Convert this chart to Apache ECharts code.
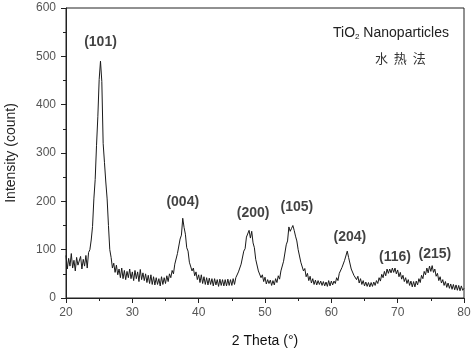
<!DOCTYPE html>
<html>
<head>
<meta charset="utf-8">
<script src="https://cdn.jsdelivr.net/npm/echarts@6/dist/echarts.min.js"></script>
<style>html,body{margin:0;padding:0;background:#fff}#c{width:474px;height:353px}</style>
</head>
<body>
<div id="c"></div>
<script>
// Scan grid (2θ, degrees)
const thetaStart = 20;
const thetaStep = 0.2;
// Intensity (count), one value per 0.2°
const intensity = [
  88, 60, 82, 66, 92, 62, 78, 56, 84, 68,
  64, 86, 60, 80, 66, 88, 62, 94, 100, 120,
  148, 205, 245, 315, 375, 452, 490, 448, 320, 280,
  240, 205, 150, 100, 84, 62, 72, 53, 68, 48,
  60, 42, 62, 40, 57, 38, 55, 42, 60, 40,
  54, 36, 57, 40, 54, 34, 59, 38, 52, 36,
  50, 32, 47, 30, 48, 28, 44, 27, 42, 28,
  40, 25, 44, 28, 42, 30, 46, 34, 50, 42,
  57, 50, 70, 70, 92, 94, 122, 130, 165, 146,
  132, 104, 97, 74, 74, 56, 62, 46, 54, 38,
  48, 32, 48, 30, 44, 28, 42, 27, 41, 28,
  40, 25, 40, 27, 38, 24, 39, 26, 38, 25,
  38, 25, 39, 26, 38, 26, 40, 28, 42, 38,
  54, 51, 70, 73, 97, 102, 126, 126, 140, 124,
  138, 114, 104, 80, 76, 56, 59, 42, 48, 34,
  43, 29, 38, 30, 37, 26, 36, 27, 40, 32,
  46, 39, 56, 53, 76, 80, 110, 118, 147, 138,
  144, 150, 140, 128, 118, 100, 96, 74, 74, 56,
  61, 44, 51, 36, 45, 31, 40, 28, 37, 27,
  36, 28, 35, 26, 34, 25, 33, 24, 36, 25,
  35, 27, 35, 30, 42, 36, 51, 48, 63, 60,
  78, 78, 97, 84, 80, 60, 62, 47, 51, 38,
  45, 31, 40, 28, 36, 25, 33, 24, 32, 23,
  32, 24, 33, 26, 36, 30, 42, 35, 49, 42,
  55, 46, 60, 51, 60, 52, 62, 53, 62, 50,
  58, 44, 53, 39, 47, 34, 42, 30, 38, 26,
  35, 23, 34, 23, 35, 27, 40, 32, 47, 40,
  55, 48, 62, 52, 66, 55, 67, 53, 60, 45,
  51, 36, 44, 31, 38, 26, 34, 22, 31, 20,
  29, 18, 28, 17, 27, 16, 26, 15, 25, 16,
  20
];
// Peak annotations (Miller indices) placed in data coordinates
const peakNames = ['(101)', '(004)', '(200)', '(105)', '(204)', '(116)', '(215)'];
const peakLabelTheta = [25.2, 37.6, 48.2, 54.8, 62.8, 69.6, 75.6];
const peakLabelCount = [530, 198, 175, 188, 126, 84, 90];

const xTicks = [20, 30, 40, 50, 60, 70, 80];
const yTicks = [0, 100, 200, 300, 400, 500, 600];

const lineData = intensity.map((v, i) => [+(thetaStart + i * thetaStep).toFixed(2), v]);
const labelData = peakNames.map((n, i) => ({ name: n, value: [peakLabelTheta[i], peakLabelCount[i]] }));

const chart = echarts.init(document.getElementById('c'), null, { renderer: 'canvas' });
chart.setOption({
  animation: false,
  backgroundColor: '#fff',
  grid: { left: 66, right: 10, top: 8, bottom: 55, show: true, borderColor: '#222', borderWidth: 1,
          containLabel: false, outerBoundsMode: 'none' },
  xAxis: {
    type: 'value', min: xTicks[0], max: xTicks[xTicks.length - 1], interval: 10,
    name: '2 Theta (°)', nameLocation: 'middle', nameGap: 36,
    nameTextStyle: { fontFamily: 'Arial, Liberation Sans', fontSize: 14, color: '#111' },
    axisLine: { lineStyle: { color: '#222', width: 1 } },
    axisTick: { inside: false, length: 5, lineStyle: { color: '#222' } },
    minorTick: { show: true, splitNumber: 2, length: 3, lineStyle: { color: '#222' } },
    axisLabel: { fontFamily: 'Arial, Liberation Sans', fontSize: 12, color: '#555', margin: 9 },
    splitLine: { show: false }
  },
  yAxis: {
    type: 'value', min: yTicks[0], max: yTicks[yTicks.length - 1], interval: 100,
    name: 'Intensity (count)', nameLocation: 'middle', nameGap: 48,
    nameTextStyle: { fontFamily: 'Arial, Liberation Sans', fontSize: 14, color: '#222' },
    axisLine: { show: true, lineStyle: { color: '#222', width: 1 } },
    axisTick: { show: true, inside: false, length: 5, lineStyle: { color: '#222' } },
    minorTick: { show: true, splitNumber: 2, length: 3, lineStyle: { color: '#222' } },
    axisLabel: { fontFamily: 'Arial, Liberation Sans', fontSize: 12, color: '#555', margin: 10 },
    splitLine: { show: false }
  },
  series: [
    {
      type: 'line', data: lineData, showSymbol: false, symbol: 'none',
      lineStyle: { color: '#1a1a1a', width: 1 }, z: 3
    },
    {
      type: 'scatter', data: labelData, symbolSize: 0, silent: true,
      label: {
        show: true, position: 'inside', formatter: p => p.name,
        fontFamily: 'Arial, Liberation Sans', fontWeight: 'bold', fontSize: 14, color: '#111'
      }, z: 4
    }
  ],
  graphic: [
    {
      type: 'text', left: 333, top: 26,
      style: {
        text: 'TiO{s|2} Nanoparticles',
        rich: { s: { fontSize: 8, verticalAlign: 'bottom', padding: [8, 0, 0, 0], fontFamily: 'Arial, Liberation Sans', fill: '#222' } },
        fontFamily: 'Arial, Liberation Sans', fontSize: 14, fill: '#222'
      }
    },
    {
      type: 'text', left: 375, top: 52,
      style: { text: '水  热  法', fontFamily: 'Noto Sans CJK SC', fontSize: 13, fill: '#333' }
    }
  ]
});
</script>
</body>
</html>
